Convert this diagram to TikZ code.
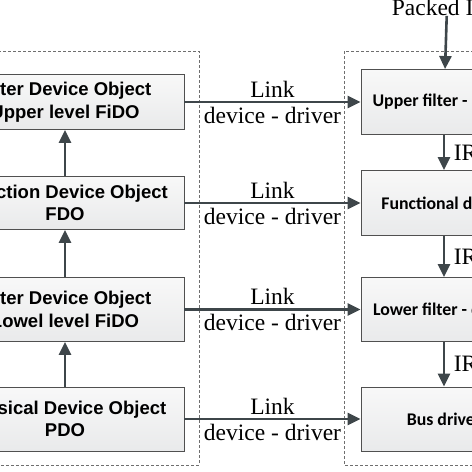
\documentclass[tikz,border=0pt]{standalone}
\usepackage{fontspec}
\setmainfont{Liberation Serif}
\newfontfamily\objfont{Liberation Sans}
\newfontfamily\drvfont{Carlito}
\usetikzlibrary{positioning,arrows.meta}
\definecolor{arrowgray}{RGB}{62,70,74}
\definecolor{boxline}{RGB}{80,80,80}
\definecolor{boxtop}{RGB}{248,248,248}
\definecolor{boxbot}{RGB}{233,234,235}
\definecolor{dashgray}{RGB}{110,110,110}
\tikzset{
obj/.style={draw=boxline, line width=0.9pt, top color=boxtop, bottom color=boxbot, minimum width=238pt, align=center, inner sep=0pt, font=\objfont\bfseries\fontsize{18.5}{22.5}\selectfont},
drv/.style={draw=boxline, line width=0.9pt, top color=boxtop, bottom color=boxbot, minimum width=166pt, align=center, inner sep=0pt, font=\drvfont\bfseries\fontsize{17.8}{20}\selectfont},
flow/.style={draw=arrowgray, line width=2.6pt, -{Triangle[length=13pt,width=12pt]}},
tnr/.style={font=\fontsize{23.5}{26}\selectfont, inner sep=0.5pt},
group/.style={draw=dashgray, line width=0.6pt, dash pattern=on 3pt off 2pt}
}

\begin{document}
\begin{tikzpicture}[x=1pt,y=-1pt]
\useasboundingbox (0,0) rectangle (472,472);
\clip (0,0) rectangle (472,472);

% dashed groups
\draw[group] (-70,51) rectangle (199,465);
\draw[group] (344,51) rectangle (540,465);

% device objects
\node[obj, minimum height=55pt] (fido1) at (65,102) {Filter Device Object\\Upper level FiDO};
\node[obj, minimum height=53pt] (fdo) at (65,203) {Function Device Object\\FDO};
\node[obj, minimum height=64pt] (fido2) at (65,309.5) {Filter Device Object\\Lowel level FiDO};
\node[obj, minimum height=64pt] (pdo) at (65,419) {Physical Device Object\\PDO};

% drivers
\node[drv, minimum height=65pt] (upf) at (444,102) {Upper filter - driver};
\node[drv, minimum height=65pt] (fnd) at (444,203) {Functional driver};
\node[drv, minimum height=64pt] (lof) at (444,309.5) {Lower filter - driver};
\node[drv, minimum height=64pt] (bus) at (444,419) {Bus driver};

\node[tnr, anchor=base] (packed) at (447,15) {Packed IRP};

% stack
\draw[flow] (pdo) -- (fido2);
\draw[flow] (fido2) -- (fdo);
\draw[flow] (fdo) -- (fido1);

% links
\draw[flow] (fido1) -- node[above=3pt, tnr]{Link} node[below=3pt, tnr]{device - driver} (upf);
\draw[flow] (fdo) -- node[above=3pt, tnr]{Link} node[below=3pt, tnr]{device - driver} (fnd);
\draw[flow] (fido2) -- node[above=3pt, tnr]{Link} node[below=3pt, tnr]{device - driver} (lof);
\draw[flow] (pdo) -- node[above=3pt, tnr]{Link} node[below=3pt, tnr]{device - driver} (bus);

% irp path
\draw[flow] (packed) -- (upf);
\draw[flow] (upf) -- node[right=8pt, tnr]{IRP} (fnd);
\draw[flow] (fnd) -- node[right=8pt, tnr]{IRP} (lof);
\draw[flow] (lof) -- node[right=8pt, tnr]{IRP} (bus);
\end{tikzpicture}
\end{document}
